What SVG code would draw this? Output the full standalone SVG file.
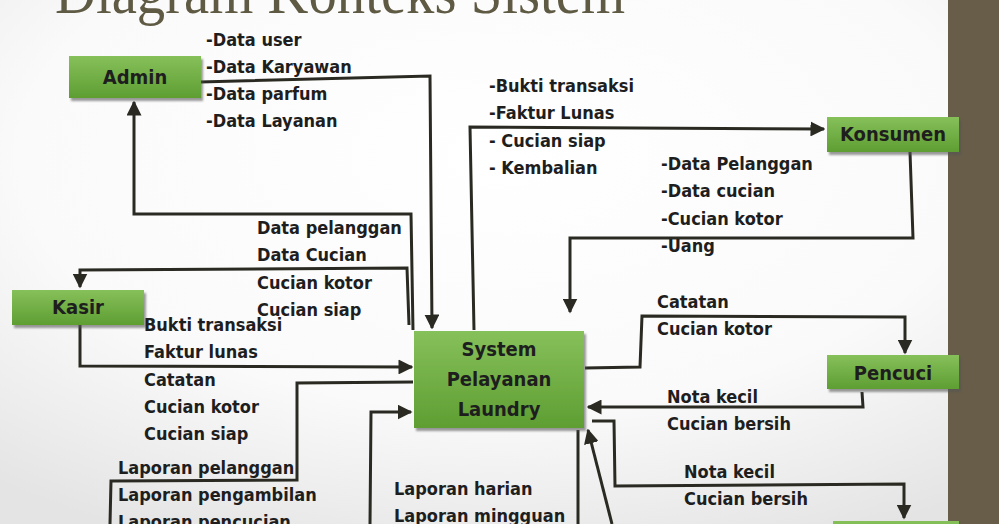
<svg xmlns="http://www.w3.org/2000/svg" width="999" height="524" viewBox="0 0 999 524">
<defs>
<radialGradient id="bg" cx="0.5" cy="0.3" r="0.8"><stop offset="0" stop-color="#ffffff"/><stop offset="0.6" stop-color="#fafafa"/><stop offset="1" stop-color="#e4e4e4"/></radialGradient>
<linearGradient id="g" x1="0" y1="0" x2="0" y2="1"><stop offset="0" stop-color="#86c05a"/><stop offset="1" stop-color="#5e9e32"/></linearGradient>
<marker id="a" viewBox="0 0 10 10" refX="9" refY="5" markerWidth="5" markerHeight="5" orient="auto"><path d="M0,0 L10,5 L0,10 Z" fill="#2a2a22"/></marker>
<filter id="sh" x="-10%" y="-10%" width="130%" height="140%"><feDropShadow dx="2" dy="3" stdDeviation="1" flood-color="#555" flood-opacity="0.6"/></filter>
</defs>
<style>
.n rect{fill:url(#g);filter:url(#sh)}
.n text,.l{font-family:"DejaVu Sans Condensed","Liberation Sans",sans-serif;font-weight:bold;fill:#1e1e1e}
.n text{font-size:20px;text-anchor:middle}
.l{font-size:18px}
#c path{fill:none;stroke:#2a2a22;stroke-width:3}
</style>
<rect width="999" height="524" fill="url(#bg)"/>
<rect x="948" y="0" width="51" height="524" fill="#675d48"/>
<text x="55" y="13" font-family="Liberation Serif,serif" font-size="62" fill="#5f5a43" textLength="570" lengthAdjust="spacingAndGlyphs">Diagram Konteks Sistem</text>
<g id="c">
<path d="M200,82 L430,76 L432,328" marker-end="url(#a)"/>
<path d="M413,330 L411,214 L134,214 L134,102" marker-end="url(#a)"/>
<path d="M409,325 L407,268 L80,270 L80,287" marker-end="url(#a)"/>
<path d="M80,325 L80,366 L412,367" marker-end="url(#a)"/>
<path d="M474,330 L470,127 L824,129" marker-end="url(#a)"/>
<path d="M910,152 L913,238 L570,238 L570,312" marker-end="url(#a)"/>
<path d="M585,368 L640,367 L642,316 L905,317 L905,353" marker-end="url(#a)"/>
<path d="M862,392 L863,407 L588,407" marker-end="url(#a)"/>
<path d="M592,421 L614,421 L615,486 L904,484 L904,518" marker-end="url(#a)"/>
<path d="M413,382 L297,383 L297,480 L111,481 L110,524"/>
<path d="M370,524 L371,412 L411,412" marker-end="url(#a)"/>
<path d="M578,430 L578,524"/>
<path d="M612,524 L588,430" marker-end="url(#a)"/>
</g>
<g id="admin" class="n"><rect x="69" y="56" width="132" height="42"/><text x="135" y="84">Admin</text></g>
<g id="konsumen" class="n"><rect x="827" y="117" width="132" height="35"/><text x="893" y="141">Konsumen</text></g>
<g id="kasir" class="n"><rect x="12" y="290" width="132" height="35"/><text x="78" y="314">Kasir</text></g>
<g id="system" class="n"><rect x="414" y="331" width="170" height="97"/><text x="499" y="356">System</text><text x="499" y="386">Pelayanan</text><text x="499" y="416">Laundry</text></g>
<g id="pencuci" class="n"><rect x="827" y="355" width="132" height="34"/><text x="893" y="380">Pencuci</text></g>
<g id="bottom" class="n"><rect x="833" y="521" width="126" height="30"/></g>
<g class="l">
<text x="206" y="46">-Data user</text><text x="206" y="73">-Data Karyawan</text><text x="206" y="100">-Data parfum</text><text x="206" y="127">-Data Layanan</text>
<text x="489" y="92">-Bukti transaksi</text><text x="489" y="119">-Faktur Lunas</text><text x="489" y="147">- Cucian siap</text><text x="489" y="174">- Kembalian</text>
<text x="661" y="170">-Data Pelanggan</text><text x="661" y="197">-Data cucian</text><text x="661" y="225">-Cucian kotor</text><text x="661" y="252">-Uang</text>
<text x="257" y="234">Data pelanggan</text><text x="257" y="261">Data Cucian</text><text x="257" y="289">Cucian kotor</text><text x="257" y="316">Cucian siap</text>
<text x="144" y="331">Bukti transaksi</text><text x="144" y="358">Faktur lunas</text><text x="144" y="386">Catatan</text><text x="144" y="413">Cucian kotor</text><text x="144" y="440">Cucian siap</text>
<text x="657" y="308">Catatan</text><text x="657" y="335">Cucian kotor</text>
<text x="667" y="403">Nota kecil</text><text x="667" y="430">Cucian bersih</text>
<text x="684" y="478">Nota kecil</text><text x="684" y="505">Cucian bersih</text>
<text x="118" y="474">Laporan pelanggan</text><text x="118" y="501">Laporan pengambilan</text><text x="118" y="528">Laporan pencucian</text>
<text x="394" y="495">Laporan harian</text><text x="394" y="522">Laporan mingguan</text>
</g>
</svg>
